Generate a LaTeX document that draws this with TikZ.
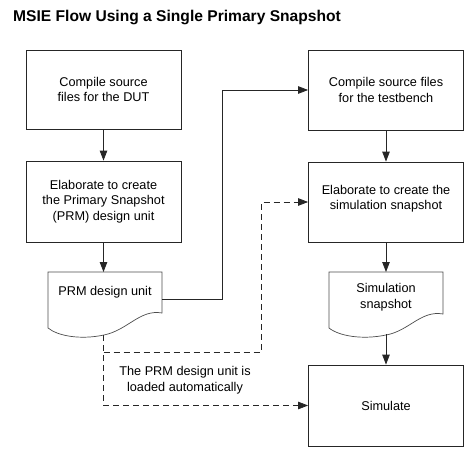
\documentclass[tikz,border=0pt]{standalone}
\usepackage{fontspec}
\setmainfont{Liberation Sans}
\usetikzlibrary{arrows.meta}
\begin{document}
\begin{tikzpicture}[x=1pt,y=-1pt,
  boxst/.style={draw=black!85,line width=0.8pt,minimum width=155pt,align=center,
    font=\fontsize{12.7}{15.5}\selectfont,inner sep=0pt},
  lbl/.style={align=center,font=\fontsize{12.7}{15.5}\selectfont,inner sep=0pt},
  arr/.style={line width=0.8pt,draw=black!85,-{Triangle[length=10pt,width=7.5pt]}},
  dsh/.style={dash pattern=on 6pt off 4pt},
  docst/.style={draw=black!70,line width=0.7pt}]
\useasboundingbox (0,0) rectangle (474,452);
\node[anchor=base west,inner sep=0pt,font=\fontsize{15.6}{18}\selectfont\bfseries] (title) at (13,21.5) {MSIE Flow Using a Single Primary Snapshot};
% boxes
\node[boxst,minimum height=79pt] (b1) at (103.5,89.5) {Compile source\\files for the DUT};
\node[boxst,minimum height=80pt] (b2) at (386,90) {Compile source files\\for the testbench};
\node[boxst,minimum height=81pt] (b3) at (103.5,201.5) {Elaborate to create\\the Primary Snapshot\\(PRM) design unit};
\node[boxst,minimum height=80pt] (b4) at (386,202) {};
\node[lbl] (t4) at (386,198.5) {Elaborate to create the\\simulation snapshot};
\node[boxst,minimum height=81pt] (b5) at (386,405.5) {Simulate};
% document shapes
\draw[docst] (48,272) -- (162,272) -- (162,313)
  .. controls (140,309) and (128,330) .. (104,335)
  .. controls (80,340) and (58,336) .. (48,328) -- cycle;
\draw[docst] (329,272) -- (443,272) -- (443,314)
  .. controls (421,310) and (409,331) .. (386,335)
  .. controls (362,340) and (339,336) .. (329,328) -- cycle;
\coordinate (prmtop) at (103.5,272);
\coordinate (prmr) at (162,299);
\coordinate (prmbot) at (103.5,335);
\coordinate (simtop) at (386,272);
\coordinate (simbot) at (386,334);
\coordinate (jn) at (103.5,352);
\node[lbl] (prmt) at (105,292) {PRM design unit};
\node[lbl] (simt) at (386,297) {Simulation\\snapshot};
% arrows
\draw[arr] (b1.south) -- (b3.north);
\draw[arr] (b3.south) -- (prmtop);
\draw[arr] (b2.south) -- (b4.north);
\draw[arr] (b4.south) -- (simtop);
\draw[arr] (simbot) -- (b5.north);
\draw[arr] (prmr) -- (222,299) |- (b2.west);
% dashed
\draw[arr,dsh] (prmbot) |- (b5.west);
\draw[arr,dsh] (jn) -- (261,352) |- (b4.west);
\node[lbl] (note) at (185,380) {The PRM design unit is\\loaded automatically};
\end{tikzpicture}
\end{document}
